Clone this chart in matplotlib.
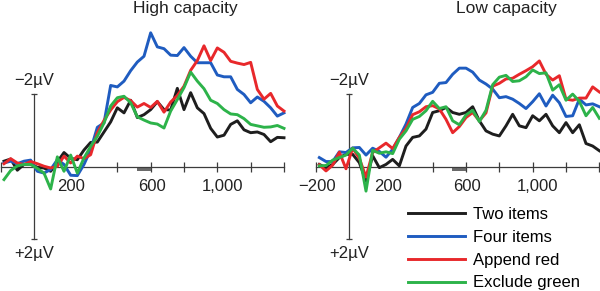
"""CDA waveforms for high- and low-capacity groups (two panels)."""

import matplotlib

matplotlib.use("Agg")
import matplotlib.pyplot as plt
import numpy as np
from matplotlib.patches import Rectangle

plt.rcParams["font.family"] = ["Liberation Sans", "DejaVu Sans"]
plt.rcParams["font.size"] = 12

# ---------------------------------------------------------------------------
# Data (µV, negative up), sampled every 40 ms from -180 to 1500 ms
# ---------------------------------------------------------------------------
TIME_MS = np.arange(-180, 1501, 40)

HIGH_TWO = [-0.15, -0.21, 0.10, -0.06, -0.07, 0.02, 0.04, 0.13, -0.13, -0.39,
            -0.23, -0.19, -0.46, -0.67, -0.68, -0.96, -1.24, -1.63, -1.49, -1.84,
            -1.36, -1.44, -1.58, -1.80, -1.58, -1.57, -2.17, -1.58, -2.05, -1.63,
            -1.47, -1.06, -0.82, -0.87, -1.17, -1.27, -1.02, -0.94, -0.96, -0.89,
            -0.69, -0.81, -0.80]
HIGH_FOUR = [-0.10, -0.15, -0.08, -0.15, -0.18, 0.13, 0.18, 0.08, -0.19, -0.06,
             0.24, 0.25, -0.06, -0.47, -1.09, -1.21, -2.25, -2.21, -2.37, -2.66,
             -2.90, -3.06, -3.71, -3.32, -3.27, -3.09, -3.08, -3.30, -3.06, -2.88,
             -2.88, -2.88, -2.54, -2.49, -2.49, -2.14, -2.00, -1.77, -1.93, -1.81,
             -1.63, -1.40, -1.49]
HIGH_RED = [-0.08, -0.22, -0.10, -0.06, -0.14, -0.08, -0.01, 0.04, -0.01, -0.29,
            -0.10, -0.29, -0.22, -0.33, -0.94, -1.28, -1.57, -1.80, -1.92, -1.83,
            -1.65, -1.75, -1.64, -1.81, -1.51, -1.79, -1.97, -2.23, -2.67, -2.94,
            -3.35, -2.94, -3.29, -3.17, -2.92, -2.87, -2.83, -2.89, -2.14, -1.87,
            -2.03, -1.68, -1.54]
HIGH_GREEN = [0.36, 0.11, -0.02, -0.06, -0.06, 0.05, 0.18, 0.62, -0.27, 0.13,
              -0.32, 0.18, -0.24, -0.56, -0.84, -1.21, -1.68, -1.91, -1.95, -1.77,
              -1.38, -1.29, -1.21, -1.18, -1.07, -1.54, -1.86, -2.19, -2.62, -2.37,
              -2.16, -1.84, -1.75, -1.58, -1.46, -1.44, -1.33, -1.17, -1.13, -1.09,
              -1.10, -1.14, -1.06]

LOW_TWO = [-0.06, 0.03, -0.06, -0.25, -0.34, -0.34, -0.11, 0.40, -0.30, 0.03,
           -0.06, -0.20, -0.02, -0.57, -0.81, -0.85, -1.04, -1.50, -1.55, -1.64,
           -1.50, -1.45, -1.50, -1.66, -1.27, -0.99, -0.90, -0.85, -1.13, -1.45,
           -1.13, -1.08, -1.41, -1.27, -1.45, -1.13, -0.94, -1.22, -0.94, -1.16,
           -0.64, -0.57, -0.44]
LOW_FOUR = [-0.25, -0.14, -0.14, -0.41, -0.39, -0.52, -0.53, -0.32, -0.51, -0.42,
            -0.26, -0.48, -0.81, -1.18, -1.64, -1.75, -1.99, -2.06, -2.31, -2.33,
            -2.56, -2.73, -2.73, -2.62, -2.40, -2.29, -2.15, -1.91, -1.94, -1.87,
            -1.75, -1.61, -1.80, -2.02, -1.68, -1.98, -1.77, -1.39, -1.41, -1.87,
            -1.71, -1.74, -1.66]
LOW_RED = [-0.05, 0.12, -0.04, -0.40, 0.06, -0.51, -0.23, 0.29, -0.39, -0.52,
           -0.65, -0.50, -0.81, -1.06, -1.44, -1.52, -1.66, -1.69, -1.60, -1.31,
           -0.94, -1.11, -1.36, -1.50, -1.27, -1.49, -2.23, -2.31, -2.43, -2.45,
           -2.56, -2.66, -2.77, -2.93, -2.56, -2.40, -2.52, -1.87, -1.84, -1.90,
           -1.90, -2.21, -2.07]
LOW_GREEN = [-0.02, -0.03, -0.18, -0.25, -0.32, -0.51, -0.32, 0.68, -0.45, -0.37,
             -0.41, -0.36, -0.76, -0.99, -1.31, -1.39, -1.55, -1.81, -1.61, -1.66,
             -1.27, -1.16, -1.43, -1.56, -1.25, -1.56, -2.27, -2.48, -2.53, -2.36,
             -2.38, -2.49, -2.68, -2.58, -2.60, -2.12, -2.27, -1.84, -2.01, -1.81,
             -1.41, -1.64, -1.34]

SERIES_LABELS = ["Two items", "Four items", "Append red", "Exclude green"]
COLORS = ["#1e1e1e", "#1f5cc0", "#e8282b", "#2db34a"]

XTICKS = [-200, 500, 700, 900, 1100, 1300, 1500]
WINDOW_MS = (615, 700)  # grey bar on the time axis

AXIS_COLOR = "#3c3c3c"

PANELS = [
    {
        "title": "High capacity",
        "series": [HIGH_TWO, HIGH_FOUR, HIGH_RED, HIGH_GREEN],
        "rect": [0.0, 0.0, 290 / 600, 1.0],
        "xlim": (-204, 1536),
        "label_pos": [225, 708, 1130],
        "label_txt": ["200", "600", "1,000"],
        "title_x": 185 / 600,
    },
    {
        "title": "Low capacity",
        "series": [LOW_TWO, LOW_FOUR, LOW_RED, LOW_GREEN],
        "rect": [0.5, 0.0, 0.5, 1.0],
        "xlim": (-296, 1504),
        "label_pos": [-195, 235, 708, 1130],
        "label_txt": ["\u2212200", "200", "600", "1,000"],
        "title_x": 506 / 600,
    },
]


def draw_panel(fig, panel):
    ax = fig.add_axes(panel["rect"])
    ax.patch.set_alpha(0)
    for values, label, color in zip(panel["series"], SERIES_LABELS, COLORS):
        ax.plot(TIME_MS, values, color=color, lw=2.1, label=label,
                solid_joinstyle="round", zorder=3)

    ax.set_xlim(*panel["xlim"])
    ax.set_ylim(3.45, -4.62)  # negative up

    for side in ("top", "right"):
        ax.spines[side].set_visible(False)
    ax.spines["bottom"].set_position(("data", 0))
    ax.spines["bottom"].set_bounds(-200, 1500)
    ax.spines["left"].set_position(("data", 0))
    ax.spines["left"].set_bounds(-2, 2)
    for side in ("bottom", "left"):
        ax.spines[side].set_color(AXIS_COLOR)
        ax.spines[side].set_linewidth(0.9)
        ax.spines[side].set_zorder(2)

    ax.set_xticks(XTICKS, [""] * len(XTICKS))
    ax.set_xticks(panel["label_pos"], panel["label_txt"], minor=True)
    ax.tick_params(axis="x", which="major", direction="inout", length=7,
                   width=0.9, color=AXIS_COLOR)
    ax.tick_params(axis="x", which="minor", length=0, pad=9, labelsize=12,
                   labelcolor="#222222")
    ax.set_yticks([-2, 2], ["", ""])
    ax.tick_params(axis="y", direction="inout", length=5, width=0.9,
                   color=AXIS_COLOR)

    ax.text(0, -2.39, "\u22122\u00b5V", ha="center", va="center",
            fontsize=12, color="#222222")
    ax.text(0, 2.42, "+2\u00b5V", ha="center", va="center",
            fontsize=12, color="#222222")

    ax.add_patch(Rectangle((WINDOW_MS[0], 0), WINDOW_MS[1] - WINDOW_MS[0], 0.13,
                           color="#6a6a6a", lw=0, zorder=2))

    fig.text(panel["title_x"], 1 - 8.5 / 291, panel["title"], ha="center",
             va="center", fontsize=12.5, color="#222222")
    return ax


fig = plt.figure(figsize=(6.0, 2.91), dpi=100)
axes = [draw_panel(fig, p) for p in PANELS]

axes[1].legend(loc="upper left", bbox_to_anchor=(0.68, 0.289),
               bbox_transform=fig.transFigure, frameon=False, fontsize=12,
               handlelength=3.4, handletextpad=0.5, labelspacing=0.47,
               borderpad=0, borderaxespad=0)

fig.savefig("out.png", dpi=100)
